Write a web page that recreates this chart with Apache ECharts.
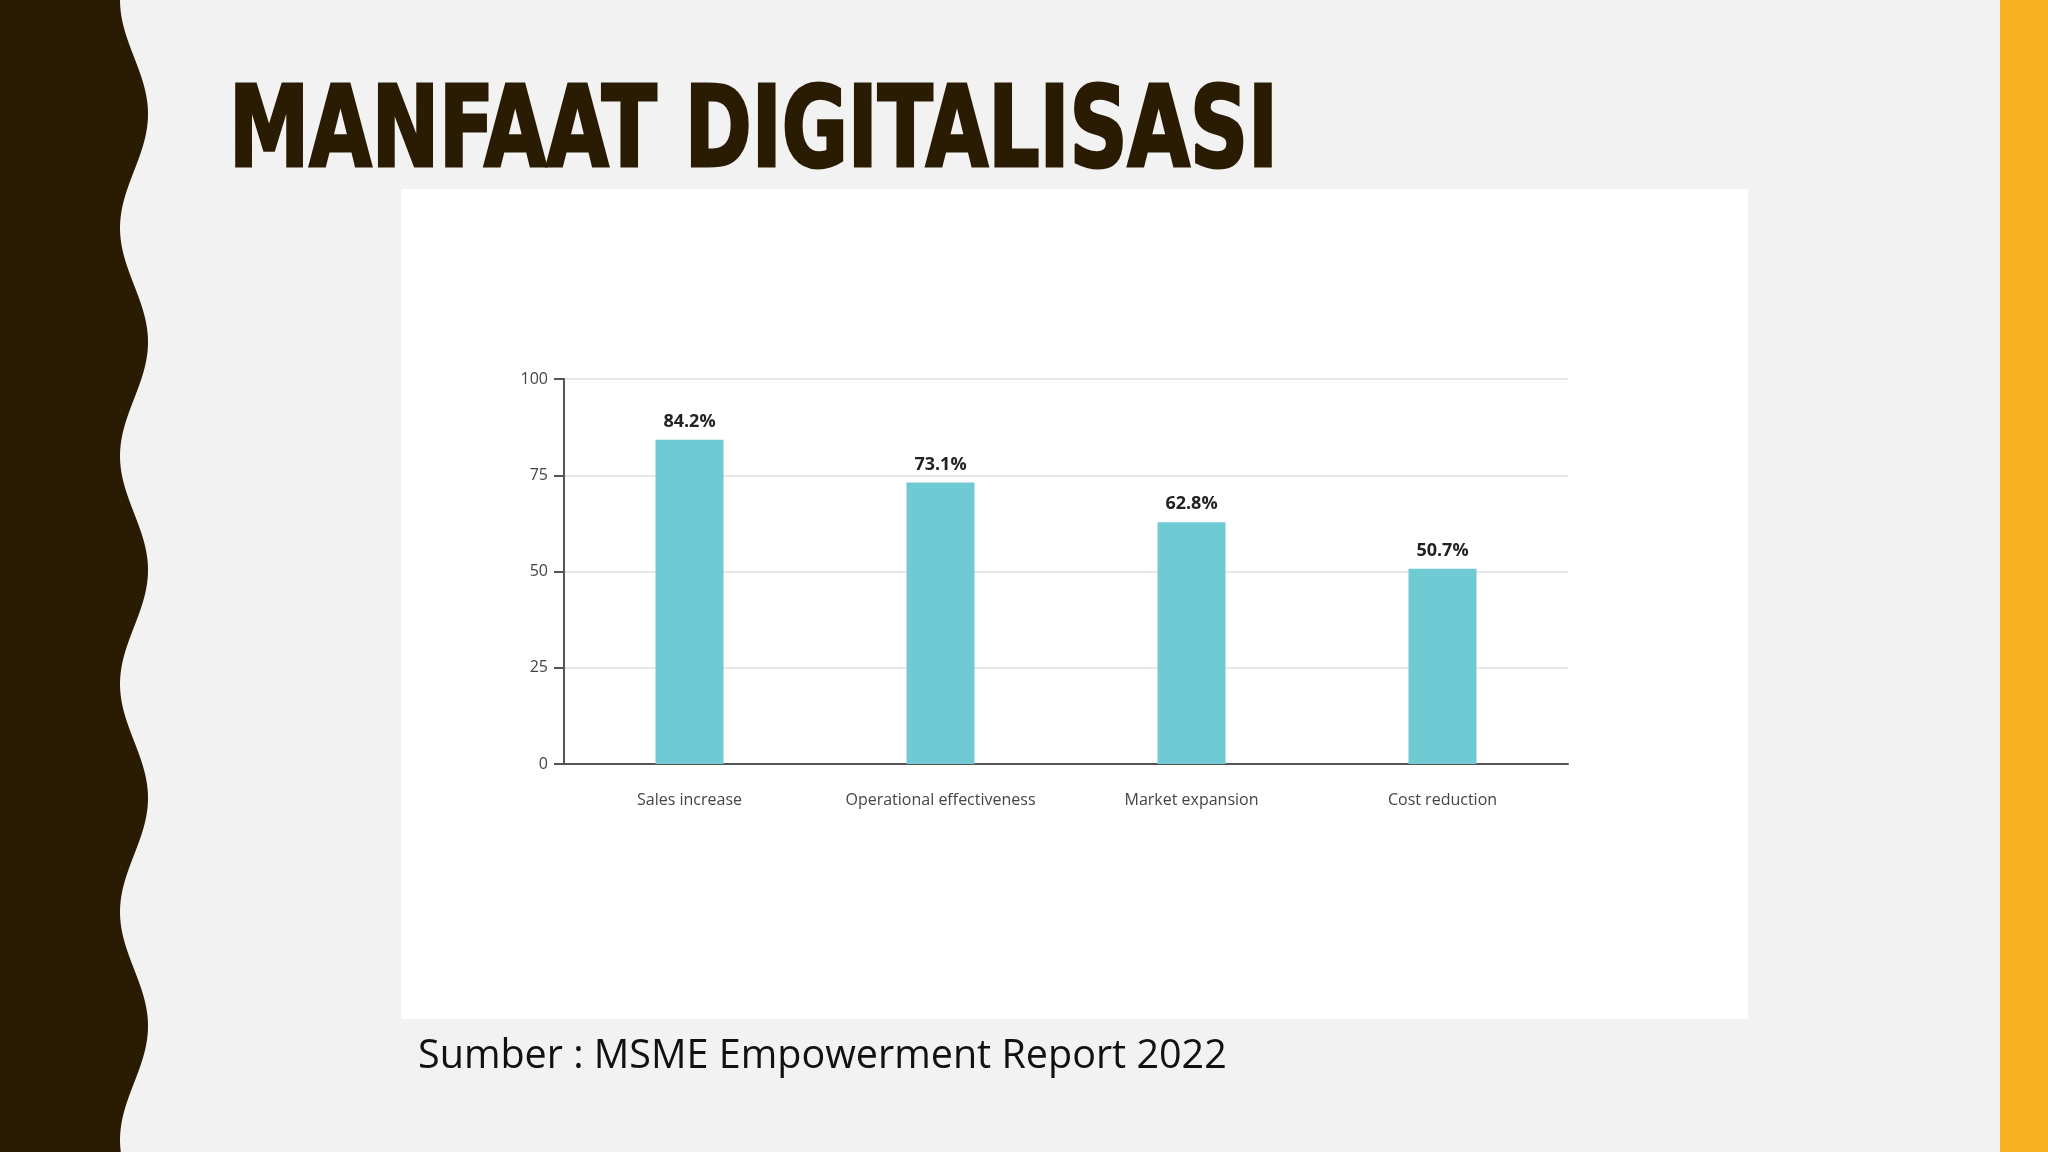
<!DOCTYPE html>
<html>
<head>
<meta charset="utf-8">
<title>Manfaat Digitalisasi</title>
<script src="https://cdn.jsdelivr.net/npm/echarts@6/dist/echarts.min.js"></script>
<style>
  html, body { margin: 0; padding: 0; background: #f2f2f2; }
  #slide { width: 2048px; height: 1152px; }
</style>
</head>
<body>
<div id="slide"></div>
<script>
// data
var categories = ["Sales increase", "Operational effectiveness", "Market expansion", "Cost reduction"];
var values = [84.2, 73.1, 62.8, 50.7];
var yTicks = [0, 25, 50, 75, 100];

var chart = echarts.init(document.getElementById("slide"));

// wavy dark strip on the left (decoration only)
var wave = [[0, 0]];
for (var y = 0; y <= 1152; y += 4) {
  wave.push([134 - 14 * Math.cos(2 * Math.PI * y / 228), y]);
}
wave.push([0, 1152]);

chart.setOption({
  backgroundColor: "#f2f2f2",
  animation: false,
  graphic: [
    { type: "polygon", z: -10, shape: { points: wave }, style: { fill: "#2a1b03" } },
    { type: "rect", z: -10, shape: { x: 2000, y: 0, width: 48, height: 1152 }, style: { fill: "#f8b323" } },
    { type: "rect", z: -10, shape: { x: 401, y: 189, width: 1347, height: 830 }, style: { fill: "#ffffff" } },
    {
      type: "text", z: 5, x: 229, y: 137, scaleX: 0.80,
      style: {
        text: "MANFAAT DIGITALISASI",
        font: "bold 112px 'Liberation Sans Narrow', 'DejaVu Sans Condensed', sans-serif",
        fill: "#2a1b03", stroke: "#2a1b03", lineWidth: 3,
        textAlign: "left", textVerticalAlign: "middle"
      }
    },
    {
      type: "text", z: 5, x: 418, y: 1057,
      style: {
        text: "Sumber : MSME Empowerment Report 2022",
        font: "39.5px 'Open Sans', 'Noto Sans', sans-serif",
        fill: "#111111", textAlign: "left", textVerticalAlign: "middle"
      }
    }
  ],
  grid: { left: 564, right: 480, top: 379, bottom: 388, containLabel: false },
  xAxis: {
    type: "category",
    data: categories,
    axisLine: { lineStyle: { color: "#555555", width: 2 } },
    axisTick: { show: false },
    axisLabel: { color: "#444444", fontSize: 16, fontFamily: "Open Sans", margin: 28 }
  },
  yAxis: {
    type: "value",
    min: 0, max: 100, interval: 25,
    axisLine: { show: true, lineStyle: { color: "#555555", width: 2 } },
    axisTick: { show: true, inside: false, length: 10, lineStyle: { color: "#555555", width: 2 } },
    splitLine: { lineStyle: { color: "#e8e8e8", width: 2 } },
    axisLabel: {
      color: "#444444", fontSize: 16, fontFamily: "Open Sans", margin: 16,
      formatter: function (v) { return yTicks.indexOf(v) >= 0 ? String(v) : ""; }
    }
  },
  series: [{
    type: "bar",
    data: values,
    barWidth: 68,
    itemStyle: { color: "#6fcad4" },
    label: {
      show: true, position: "top", distance: 9,
      formatter: "{c}%",
      color: "#222222", fontWeight: "bold", fontSize: 18, fontFamily: "Open Sans"
    }
  }]
});
</script>
</body>
</html>
